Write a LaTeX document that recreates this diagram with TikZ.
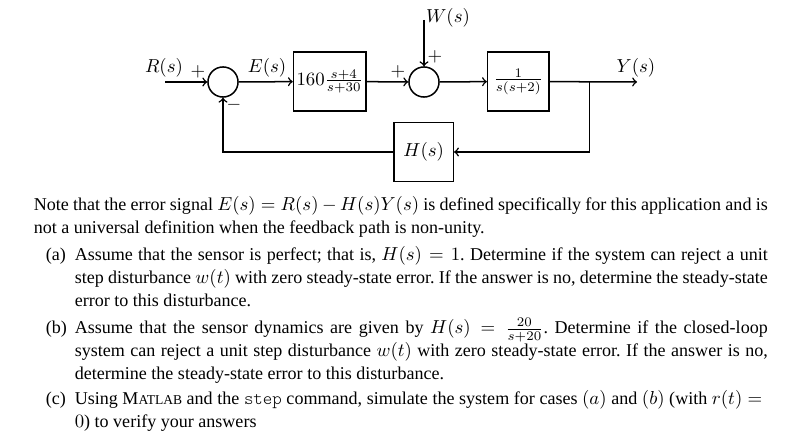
\documentclass[tikz,border=0pt]{standalone}
\usepackage{fontspec}
\setmainfont{Liberation Serif}
\setmonofont{lmmonolt10-regular.otf}
\usetikzlibrary{positioning}
\newcommand{\matlabname}{M{\fontsize{7.2}{9}\selectfont ATLAB}}
\newcommand{\sstate}{\mbox{steady-state}}
\newcommand{\bodyfont}{\fontsize{9.6}{12}\selectfont\frenchspacing}
\begin{document}
\begin{tikzpicture}[x=0.532pt, y=-0.532pt, thick,
		block/.style={draw, minimum height=31.5pt, inner sep=1pt},
		sumnode/.style={draw, circle, minimum size=16pt, inner sep=0pt},
		para/.style={anchor=base west, inner sep=0pt, align=justify, font=\bodyfont},
		itemlabel/.style={anchor=base west, inner sep=0pt, font=\bodyfont}]
			\useasboundingbox (0,0) rectangle (810,442);
			% block diagram
			\node[sumnode] (sumA) at (223,82) {};
			\node[block, minimum width=38.5pt, inner sep=0.5pt] (ctrl) at (329.7,81.5) {$160\frac{s+4}{s+30}$};
			\node[sumnode] (sumB) at (424,82) {};
			\node[block, minimum width=32.6pt] (plant) at (518.3,81.5) {$\frac{1}{s(s+2)}$};
			\node[block, minimum width=31.5pt] (sensor) at (423.7,152) {$H(s)$};
			\coordinate (rin) at (165,82);
			\coordinate (win) at (424,20);
			\coordinate (yout) at (637,82);
			\coordinate (branch) at (589.3,82);
			\draw[->] (rin) -- (sumA);
			\draw[->] (sumA) -- (ctrl);
			\draw[->] (ctrl) -- (sumB);
			\draw[->] (win) -- (sumB);
			\draw[->] (sumB) -- (plant);
			\draw[->] (plant) -- (yout);
			\draw[->] (branch) |- (sensor);
			\draw[->] (sensor) -| (sumA);
			% signal names and signs
			\node (rlab) at (164,68) {$R(s)$};
			\node (elab) at (267,68) {$E(s)$};
			\node (wlab) at (448,18) {$W(s)$};
			\node (ylab) at (636,68) {$Y(s)$};
			\node (pA) at (198,72) {$+$};
			\node (mA) at (234,105) {$-$};
			\node (pB) at (398,72) {$+$};
			\node (pW) at (435,57) {$+$};
			% text below
			\node[para, text width=390.5pt] (note) at (33,211) {Note that the error signal $E(s)=R(s)-H(s)Y(s)$ is defined specifically for this application and is\linebreak not a universal definition when the feedback path is non-unity.};
			\foreach \lab/\y in {a/261, b/334, c/405}{
				\node[itemlabel] (lab\lab) at (45,\y) {(\lab)};
			}
			\node[para, text width=368.7pt] (itema) at (74,261) {Assume that the sensor is perfect; that is, $H(s)=1$. Determine if the system can reject a unit\linebreak step disturbance $w(t)$ with zero \sstate{} error. If the answer is no, determine the \sstate\linebreak error to this disturbance.};
			\node[para, text width=368.7pt] (itemb) at (74,334) {Assume that the sensor dynamics are given by $H(s)=\frac{20}{s+20}$. Determine if the closed-loop\linebreak system can reject a unit step disturbance $w(t)$ with zero \sstate{} error. If the answer is no,\linebreak determine the \sstate{} error to this disturbance.};
			\node[para, text width=368.7pt] (itemc) at (74,405) {Using \matlabname{} and the \texttt{step} command, simulate the system for cases $(a)$ and $(b)$ (with $r(t)={}$\linebreak $0$) to verify your answers};
		\end{tikzpicture}
\end{document}
